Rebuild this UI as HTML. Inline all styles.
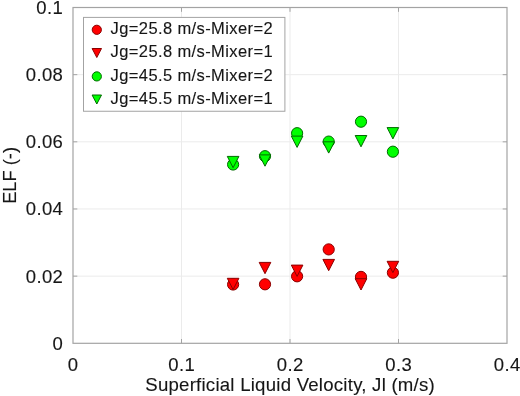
<!DOCTYPE html>
<html><head><meta charset="utf-8"><title>ELF vs Superficial Liquid Velocity</title>
<style>
html,body{margin:0;padding:0;background:#ffffff;}
body{width:520px;height:396px;overflow:hidden;}
svg{display:block;}
text{font-family:"Liberation Sans",Arial,Helvetica,sans-serif;fill:#161616;stroke:#161616;stroke-width:0.12px;}
</style></head>
<body>
<svg width="520" height="396" viewBox="0 0 520 396">
<rect x="0" y="0" width="520" height="396" fill="#ffffff"/>
<line x1="181.50" y1="7.5" x2="181.50" y2="343.3" stroke="#ebebeb" stroke-width="1"/>
<line x1="290.00" y1="7.5" x2="290.00" y2="343.3" stroke="#ebebeb" stroke-width="1"/>
<line x1="398.50" y1="7.5" x2="398.50" y2="343.3" stroke="#ebebeb" stroke-width="1"/>
<line x1="73.0" y1="276.14" x2="507.0" y2="276.14" stroke="#ebebeb" stroke-width="1"/>
<line x1="73.0" y1="208.98" x2="507.0" y2="208.98" stroke="#ebebeb" stroke-width="1"/>
<line x1="73.0" y1="141.82" x2="507.0" y2="141.82" stroke="#ebebeb" stroke-width="1"/>
<line x1="73.0" y1="74.66" x2="507.0" y2="74.66" stroke="#ebebeb" stroke-width="1"/>
<line x1="181.50" y1="343.3" x2="181.50" y2="339.0" stroke="#a3a3a3" stroke-width="1"/>
<line x1="181.50" y1="7.5" x2="181.50" y2="11.8" stroke="#a3a3a3" stroke-width="1"/>
<line x1="290.00" y1="343.3" x2="290.00" y2="339.0" stroke="#a3a3a3" stroke-width="1"/>
<line x1="290.00" y1="7.5" x2="290.00" y2="11.8" stroke="#a3a3a3" stroke-width="1"/>
<line x1="398.50" y1="343.3" x2="398.50" y2="339.0" stroke="#a3a3a3" stroke-width="1"/>
<line x1="398.50" y1="7.5" x2="398.50" y2="11.8" stroke="#a3a3a3" stroke-width="1"/>
<line x1="73.0" y1="276.14" x2="77.3" y2="276.14" stroke="#a3a3a3" stroke-width="1"/>
<line x1="507.0" y1="276.14" x2="502.7" y2="276.14" stroke="#a3a3a3" stroke-width="1"/>
<line x1="73.0" y1="208.98" x2="77.3" y2="208.98" stroke="#a3a3a3" stroke-width="1"/>
<line x1="507.0" y1="208.98" x2="502.7" y2="208.98" stroke="#a3a3a3" stroke-width="1"/>
<line x1="73.0" y1="141.82" x2="77.3" y2="141.82" stroke="#a3a3a3" stroke-width="1"/>
<line x1="507.0" y1="141.82" x2="502.7" y2="141.82" stroke="#a3a3a3" stroke-width="1"/>
<line x1="73.0" y1="74.66" x2="77.3" y2="74.66" stroke="#a3a3a3" stroke-width="1"/>
<line x1="507.0" y1="74.66" x2="502.7" y2="74.66" stroke="#a3a3a3" stroke-width="1"/>
<circle cx="233.10" cy="284.50" r="5.6" fill="#ff0000" stroke="#8a0000" stroke-width="1.0"/>
<circle cx="265.00" cy="284.30" r="5.6" fill="#ff0000" stroke="#8a0000" stroke-width="1.0"/>
<circle cx="297.10" cy="276.30" r="5.6" fill="#ff0000" stroke="#8a0000" stroke-width="1.0"/>
<circle cx="328.70" cy="249.40" r="5.6" fill="#ff0000" stroke="#8a0000" stroke-width="1.0"/>
<circle cx="361.00" cy="276.90" r="5.6" fill="#ff0000" stroke="#8a0000" stroke-width="1.0"/>
<circle cx="392.90" cy="272.70" r="5.6" fill="#ff0000" stroke="#8a0000" stroke-width="1.0"/>
<polygon points="227.30,278.30 238.90,278.30 233.10,289.60" fill="#ff0000" stroke="#8a0000" stroke-width="1.0" stroke-linejoin="miter"/>
<polygon points="259.20,262.40 270.80,262.40 265.00,273.70" fill="#ff0000" stroke="#8a0000" stroke-width="1.0" stroke-linejoin="miter"/>
<polygon points="291.30,265.10 302.90,265.10 297.10,276.40" fill="#ff0000" stroke="#8a0000" stroke-width="1.0" stroke-linejoin="miter"/>
<polygon points="322.90,259.40 334.50,259.40 328.70,270.70" fill="#ff0000" stroke="#8a0000" stroke-width="1.0" stroke-linejoin="miter"/>
<polygon points="355.20,278.70 366.80,278.70 361.00,290.00" fill="#ff0000" stroke="#8a0000" stroke-width="1.0" stroke-linejoin="miter"/>
<polygon points="387.10,261.30 398.70,261.30 392.90,272.60" fill="#ff0000" stroke="#8a0000" stroke-width="1.0" stroke-linejoin="miter"/>
<circle cx="233.10" cy="164.50" r="5.6" fill="#00ff00" stroke="#006a00" stroke-width="1.0"/>
<circle cx="265.00" cy="156.20" r="5.6" fill="#00ff00" stroke="#006a00" stroke-width="1.0"/>
<circle cx="297.10" cy="133.20" r="5.6" fill="#00ff00" stroke="#006a00" stroke-width="1.0"/>
<circle cx="328.70" cy="141.60" r="5.6" fill="#00ff00" stroke="#006a00" stroke-width="1.0"/>
<circle cx="361.00" cy="121.70" r="5.6" fill="#00ff00" stroke="#006a00" stroke-width="1.0"/>
<circle cx="392.90" cy="151.70" r="5.6" fill="#00ff00" stroke="#006a00" stroke-width="1.0"/>
<polygon points="227.30,156.40 238.90,156.40 233.10,167.70" fill="#00ff00" stroke="#006a00" stroke-width="1.0" stroke-linejoin="miter"/>
<polygon points="259.20,154.90 270.80,154.90 265.00,166.20" fill="#00ff00" stroke="#006a00" stroke-width="1.0" stroke-linejoin="miter"/>
<polygon points="291.30,136.10 302.90,136.10 297.10,147.40" fill="#00ff00" stroke="#006a00" stroke-width="1.0" stroke-linejoin="miter"/>
<polygon points="322.90,141.80 334.50,141.80 328.70,153.10" fill="#00ff00" stroke="#006a00" stroke-width="1.0" stroke-linejoin="miter"/>
<polygon points="355.20,135.50 366.80,135.50 361.00,146.80" fill="#00ff00" stroke="#006a00" stroke-width="1.0" stroke-linejoin="miter"/>
<polygon points="387.10,127.60 398.70,127.60 392.90,138.90" fill="#00ff00" stroke="#006a00" stroke-width="1.0" stroke-linejoin="miter"/>
<rect x="73.0" y="7.5" width="434.0" height="335.8" fill="none" stroke="#a3a3a3" stroke-width="1.2"/>
<text x="62.8" y="349.70" text-anchor="end" font-size="18.5" textLength="10.58">0</text>
<text x="62.8" y="282.54" text-anchor="end" font-size="18.5" textLength="37.02">0.02</text>
<text x="62.8" y="215.38" text-anchor="end" font-size="18.5" textLength="37.02">0.04</text>
<text x="62.8" y="148.22" text-anchor="end" font-size="18.5" textLength="37.02">0.06</text>
<text x="62.8" y="81.06" text-anchor="end" font-size="18.5" textLength="37.02">0.08</text>
<text x="62.8" y="13.80" text-anchor="end" font-size="18.5" textLength="26.45">0.1</text>
<text x="73.00" y="371.2" text-anchor="middle" font-size="18.5" textLength="10.58">0</text>
<text x="181.50" y="371.2" text-anchor="middle" font-size="18.5" textLength="26.45">0.1</text>
<text x="290.00" y="371.2" text-anchor="middle" font-size="18.5" textLength="26.45">0.2</text>
<text x="398.50" y="371.2" text-anchor="middle" font-size="18.5" textLength="26.45">0.3</text>
<text x="507.00" y="371.2" text-anchor="middle" font-size="18.5" textLength="26.45">0.4</text>
<text x="290.00" y="391.4" text-anchor="middle" font-size="18.6" textLength="289.5">Superficial Liquid Velocity, Jl (m/s)</text>
<text transform="translate(16.0 175.40) rotate(-90)" x="0" y="0" text-anchor="middle" font-size="18.3" textLength="56.9">ELF (-)</text>
<rect x="83.5" y="17.4" width="201.39999999999998" height="93.85" fill="#ffffff" stroke="#a3a3a3" stroke-width="1"/>
<circle cx="96.80" cy="29.80" r="4.6" fill="#ff0000" stroke="#8a0000" stroke-width="1.0"/>
<text x="110.6" y="34.00" font-size="16.5" textLength="162.0">Jg=25.8 m/s-Mixer=2</text>
<polygon points="92.10,48.50 101.50,48.50 96.80,57.50" fill="#ff0000" stroke="#8a0000" stroke-width="1.0" stroke-linejoin="miter"/>
<text x="110.6" y="57.30" font-size="16.5" textLength="162.0">Jg=25.8 m/s-Mixer=1</text>
<circle cx="96.80" cy="76.40" r="4.6" fill="#00ff00" stroke="#006a00" stroke-width="1.0"/>
<text x="110.6" y="80.60" font-size="16.5" textLength="162.0">Jg=45.5 m/s-Mixer=2</text>
<polygon points="92.10,95.00 101.50,95.00 96.80,104.00" fill="#00ff00" stroke="#006a00" stroke-width="1.0" stroke-linejoin="miter"/>
<text x="110.6" y="103.80" font-size="16.5" textLength="162.0">Jg=45.5 m/s-Mixer=1</text>
</svg>
</body></html>
